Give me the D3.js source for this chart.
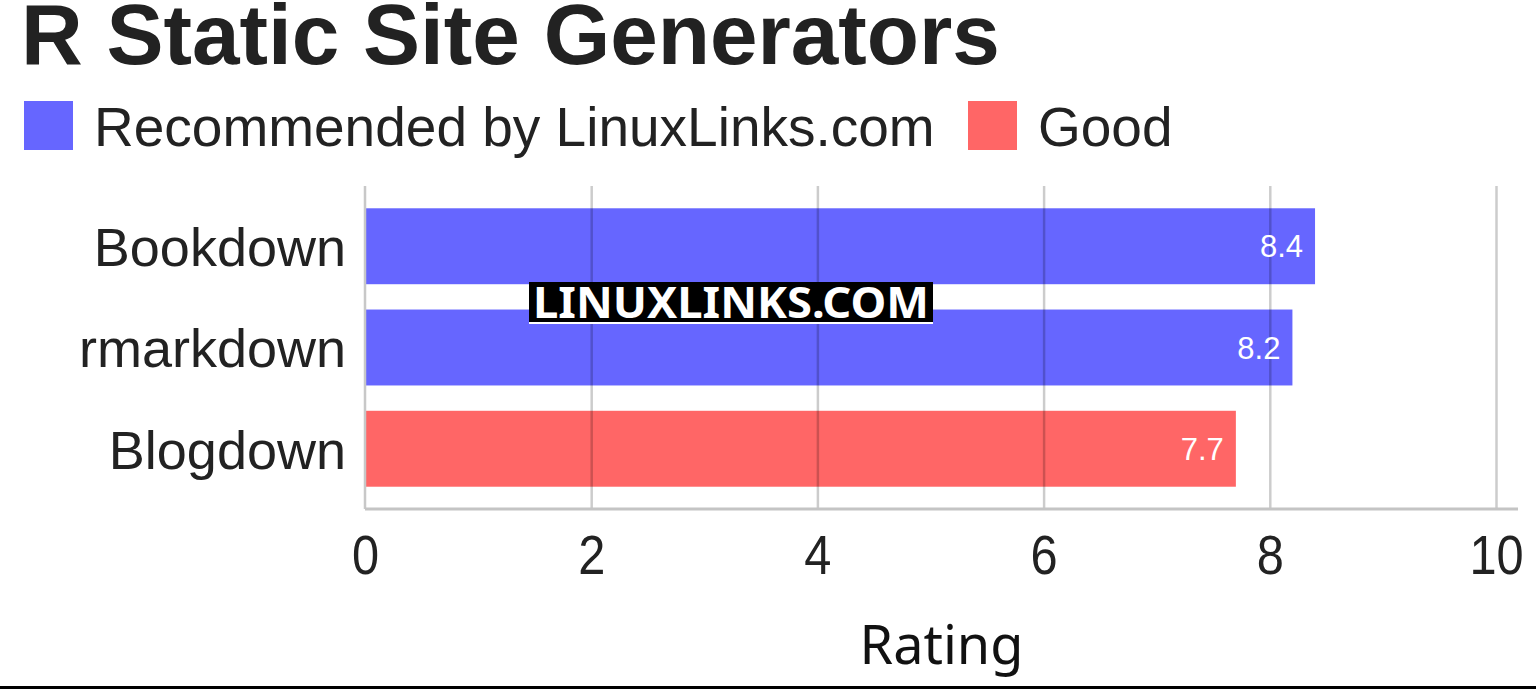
<!DOCTYPE html>
<html>
<head>
<meta charset="utf-8">
<script src="https://cdn.jsdelivr.net/npm/d3@7"></script>
<style>
  body { margin: 0; background: #fff; }
  svg { display: block; }
</style>
</head>
<body>
<div id="chart"></div>
<script>
// Data
//= ================================
var categories = ["Bookdown", "rmarkdown", "Blogdown"];
var ratings = [8.4, 8.2, 7.7];
var groups = ["Recommended by LinuxLinks.com", "Recommended by LinuxLinks.com", "Good"];
var legendLabels = ["Recommended by LinuxLinks.com", "Good"];
var legendColors = ["#6666ff", "#ff6666"];
var xTicks = [0, 2, 4, 6, 8, 10];

var svgWidth = 1536;
var svgHeight = 689;

var svg = d3.select("#chart")
    .append("svg")
    .attr("width", svgWidth)
    .attr("height", svgHeight);

var color = d3.scaleOrdinal().domain(legendLabels).range(legendColors);

// Scales
var xScale = d3.scaleLinear().domain([0, 10]).range([365, 1496]);
var yScale = d3.scaleBand()
    .domain(categories)
    .range([186, 509])
    .paddingInner(0.25)
    .paddingOuter(0.22);

// Title
svg.append("text")
    .attr("x", 21)
    .attr("y", 64)
    .attr("font-family", "Liberation Sans, Arial, sans-serif")
    .attr("font-weight", "bold")
    .attr("font-size", 85.5)
    .attr("fill", "#222")
    .text("R Static Site Generators");

// Legend
var legendX = [24, 968];
legendLabels.forEach(function (label, i) {
    svg.append("rect")
        .attr("x", legendX[i])
        .attr("y", 101)
        .attr("width", 49)
        .attr("height", 49)
        .attr("fill", legendColors[i]);
    svg.append("text")
        .attr("x", legendX[i] + 70)
        .attr("y", 146)
        .attr("font-family", "Liberation Sans, Arial, sans-serif")
        .attr("font-size", 55)
        .attr("fill", "#222")
        .text(label);
});

// Bars
var data = categories.map(function (c, i) {
    return { name: c, rating: ratings[i], group: groups[i] };
});

svg.selectAll(".bar")
    .data(data)
    .enter()
    .append("rect")
    .attr("class", "bar")
    .attr("x", xScale(0))
    .attr("y", d => yScale(d.name))
    .attr("width", d => xScale(d.rating) - xScale(0))
    .attr("height", yScale.bandwidth())
    .attr("fill", d => color(d.group));

// Gridlines drawn over the bars (semi transparent)
svg.append("g")
    .attr("transform", "translate(0, 509)")
    .call(d3.axisBottom(xScale).tickValues(xTicks.slice(1)).tickSize(-323).tickFormat(""))
    .call(g => g.select(".domain").remove())
    .selectAll("line")
    .attr("stroke", "rgba(0,0,0,0.2)")
    .attr("stroke-width", 2.5);

// Left axis line
svg.append("line")
    .attr("x1", xScale(0)).attr("x2", xScale(0))
    .attr("y1", 186).attr("y2", 509)
    .attr("stroke", "#c8c8c8")
    .attr("stroke-width", 2.5);

// Bottom axis line
svg.append("line")
    .attr("x1", xScale(0)).attr("x2", 1518)
    .attr("y1", 509).attr("y2", 509)
    .attr("stroke", "#c4c4c4")
    .attr("stroke-width", 3);

// X tick labels
var xAxis = svg.append("g")
    .attr("transform", "translate(0, 509)")
    .call(d3.axisBottom(xScale).tickValues(xTicks).tickSize(0).tickPadding(0));
xAxis.select(".domain").remove();
xAxis.selectAll("text")
    .attr("y", 65)
    .attr("dy", 0)
    .attr("font-family", "Liberation Sans, Arial, sans-serif")
    .attr("font-size", 56)
    .attr("fill", "#222")
    .each(function () {
        var w = this.getComputedTextLength();
        d3.select(this)
            .attr("textLength", w * 0.87)
            .attr("lengthAdjust", "spacingAndGlyphs");
    });

// Y category labels
var yAxis = svg.append("g")
    .attr("transform", "translate(346, 0)")
    .call(d3.axisLeft(yScale).tickSize(0).tickPadding(0));
yAxis.select(".domain").remove();
yAxis.selectAll("text")
    .attr("font-family", "Liberation Sans, Arial, sans-serif")
    .attr("font-size", 54)
    .attr("fill", "#222")
    .attr("dy", "0.37em");

// Value labels
svg.selectAll(".value")
    .data(data)
    .enter()
    .append("text")
    .attr("class", "value")
    .attr("x", d => xScale(d.rating) - 12)
    .attr("y", d => yScale(d.name) + yScale.bandwidth() / 2)
    .attr("dy", "0.36em")
    .attr("text-anchor", "end")
    .attr("font-family", "Liberation Sans, Arial, sans-serif")
    .attr("font-size", 31)
    .attr("fill", "#fff")
    .text(d => d.rating.toFixed(1));

// X axis title
svg.append("text")
    .attr("x", (xScale(0) + 1518) / 2)
    .attr("y", 664)
    .attr("text-anchor", "middle")
    .attr("font-family", "Noto Sans, Open Sans, sans-serif")
    .attr("font-size", 54)
    .attr("fill", "#111")
    .text("Rating");

// Watermark
svg.append("rect")
    .attr("x", 529)
    .attr("y", 282)
    .attr("width", 404)
    .attr("height", 41)
    .attr("fill", "#000");
svg.append("line")
    .attr("x1", 529).attr("x2", 933)
    .attr("y1", 323).attr("y2", 323)
    .attr("stroke", "#fff")
    .attr("stroke-width", 2);
svg.append("text")
    .attr("x", 533)
    .attr("y", 318)
    .attr("font-family", "Noto Sans, Open Sans, sans-serif")
    .attr("font-weight", "bold")
    .attr("font-size", 43)
    .attr("fill", "#fff")
    .attr("textLength", 396)
    .attr("lengthAdjust", "spacingAndGlyphs")
    .text("LINUXLINKS.COM");

// Bottom border
svg.append("line")
    .attr("x1", 0).attr("x2", svgWidth)
    .attr("y1", 687.5).attr("y2", 687.5)
    .attr("stroke", "#000")
    .attr("stroke-width", 3);
</script>
</body>
</html>
